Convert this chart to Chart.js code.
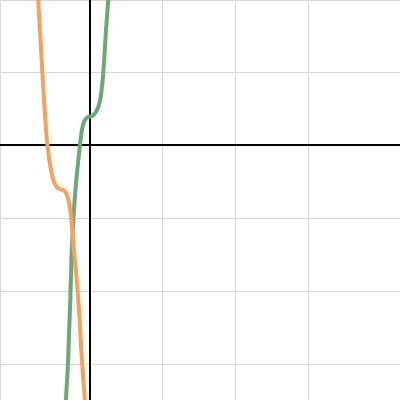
<!DOCTYPE html>
<html>
<head>
<script src="https://cdn.jsdelivr.net/npm/chart.js@4"></script>
<style>
  html, body { margin: 0; padding: 0; background: #fff; }
</style>
</head>
<body>
<canvas id="chart" width="400" height="400"></canvas>
<script>
// Points (x, y in graph units)
const greenX = [-0.33, -0.30, -0.27, -0.25, -0.21, -0.16, -0.11, -0.05, 0.03, 0.08, 0.14, 0.18, 0.22, 0.25];
const greenY = [-3.49, -2.95, -2.12, -1.44, -0.75, -0.21, 0.21, 0.37, 0.40, 0.45, 0.62, 0.96, 1.58, 1.99];
const orangeX = [-0.71, -0.67, -0.63, -0.59, -0.52, -0.44, -0.34, -0.27, -0.22, -0.16, -0.11, -0.07];
const orangeY = [1.99, 1.30, 0.62, 0.07, -0.41, -0.59, -0.64, -0.89, -1.44, -2.12, -2.95, -3.49];

const toPoints = (xs, ys) => xs.map((x, i) => ({ x: x, y: ys[i] }));

// Black axes through the origin
const axesPlugin = {
  id: 'axes',
  beforeDatasetsDraw(chart) {
    const { ctx, chartArea: a, scales: { x, y } } = chart;
    ctx.save();
    ctx.strokeStyle = '#000';
    ctx.lineWidth = 2;
    ctx.beginPath();
    const x0 = Math.round(x.getPixelForValue(0));
    const y0 = Math.round(y.getPixelForValue(0));
    ctx.moveTo(x0, a.top); ctx.lineTo(x0, a.bottom);
    ctx.moveTo(a.left, y0); ctx.lineTo(a.right, y0);
    ctx.stroke();
    ctx.restore();
  }
};

new Chart(document.getElementById('chart'), {
  type: 'scatter',
  data: {
    datasets: [
      { data: toPoints(orangeX, orangeY), showLine: true, borderColor: '#f9a05a', borderWidth: 4, pointRadius: 0, cubicInterpolationMode: 'monotone' },
      { data: toPoints(greenX, greenY), showLine: true, borderColor: '#6aa874', borderWidth: 4, pointRadius: 0, cubicInterpolationMode: 'monotone' }
    ]
  },
  options: {
    responsive: false,
    animation: false,
    layout: { padding: 0 },
    plugins: { legend: { display: false }, tooltip: { enabled: false } },
    scales: {
      x: {
        type: 'linear', min: -1.233, max: 4.247,
        ticks: { display: false, stepSize: 1 },
        grid: { color: ctx => ctx.tick && ctx.tick.value === 4 ? '#888' : '#d6d6d6', lineWidth: 1, drawTicks: false },
        border: { display: false },
        afterFit: s => { s.height = 0; }
      },
      y: {
        type: 'linear', min: -3.49, max: 1.986,
        ticks: { display: false, stepSize: 1 },
        grid: { color: '#d6d6d6', lineWidth: 1, drawTicks: false },
        border: { display: false },
        afterFit: s => { s.width = 0; }
      }
    }
  },
  plugins: [axesPlugin]
});
</script>
</body>
</html>
